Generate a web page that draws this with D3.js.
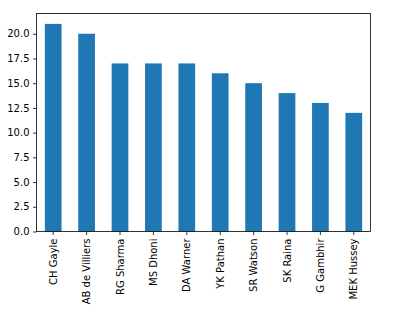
<!DOCTYPE html>
<html>
<head>
<meta charset="utf-8">
<script src="https://cdn.jsdelivr.net/npm/d3@7"></script>
<style>
  body { margin: 0; background: #fff; }
  text { font-family: "DejaVu Sans", sans-serif; }
</style>
</head>
<body>
<svg width="420" height="320"></svg>
<script>
// player names and their counts
var players = ["CH Gayle", "AB de Villiers", "RG Sharma", "MS Dhoni", "DA Warner",
  "YK Pathan", "SR Watson", "SK Raina", "G Gambhir", "MEK Hussey"];
var counts = [21, 20, 17, 17, 17, 16, 15, 14, 13, 12];
var yTicks = [0, 2.5, 5, 7.5, 10, 12.5, 15, 17.5, 20];

var svg = d3.select("svg"),
  plotLeft = 36.5, plotTop = 13.5, plotRight = 370.5, plotBottom = 231.5;

var x = d3.scaleBand()
  .domain(players)
  .range([plotLeft, plotRight])
  .paddingInner(0.5)
  .paddingOuter(0.25);

var y = d3.scaleLinear()
  .domain([0, d3.max(counts) * 1.05])
  .range([plotBottom, plotTop]);

// bars
svg.append("g").selectAll("rect")
  .data(players)
  .enter().append("rect")
  .attr("x", function (d) { return x(d); })
  .attr("y", function (d, i) { return y(counts[i]); })
  .attr("width", x.bandwidth())
  .attr("height", function (d, i) { return plotBottom - y(counts[i]); })
  .attr("fill", "#1f77b4");

// y axis
var yAxis = svg.append("g")
  .attr("transform", "translate(" + plotLeft + ",0)")
  .call(d3.axisLeft(y).tickValues(yTicks).tickFormat(d3.format(".1f")).tickSize(3.5).tickPadding(3.5));

// x axis
var xAxis = svg.append("g")
  .attr("transform", "translate(0," + plotBottom + ")")
  .call(d3.axisBottom(x).tickSize(3.5).tickPadding(3.5));

xAxis.selectAll("text")
  .attr("transform", "rotate(-90)")
  .attr("x", -7)
  .attr("y", 0)
  .attr("dy", "0.35em")
  .style("text-anchor", "end");

[xAxis, yAxis].forEach(function (a) {
  a.select(".domain").remove();
  a.selectAll("line").attr("stroke", "#000").attr("stroke-width", 0.8);
  a.selectAll("text").attr("fill", "#000").style("font-size", "10px")
    .style("font-family", "DejaVu Sans, sans-serif");
});

// frame
svg.append("rect")
  .attr("x", plotLeft)
  .attr("y", plotTop)
  .attr("width", plotRight - plotLeft)
  .attr("height", plotBottom - plotTop)
  .attr("fill", "none")
  .attr("stroke", "#000")
  .attr("stroke-width", 0.8);
</script>
</body>
</html>
